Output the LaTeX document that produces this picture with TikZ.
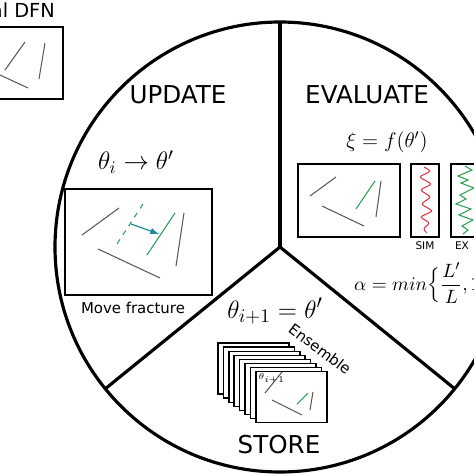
\documentclass[tikz,border=0pt]{standalone}
\usepackage{fontspec}
\setsansfont{DejaVu Sans}
\usepackage{amsmath}
\usepackage{amssymb}
\definecolor{fracgreen}{RGB}{40,160,80}
\definecolor{simred}{RGB}{220,50,70}
\definecolor{moveteal}{RGB}{30,140,150}
\tikzset{
  wheel/.style={line width=1.8pt},
  frame/.style={line width=1.1pt},
  frac/.style={line width=0.6pt, color=black!65},
  heading/.style={font=\sffamily\fontsize{14}{16}\selectfont},
  smalltxt/.style={font=\sffamily\fontsize{8.5}{10}\selectfont},
  mathtxt/.style={font=\fontsize{12}{14}\selectfont}
}

\begin{document}
\begin{tikzpicture}[x=0.02cm, y=-0.02cm]
  \useasboundingbox (0,0) rectangle (474,474);

  % the wheel
  \coordinate (hub) at (280,247);
  \draw[wheel] (hub) circle (225);
  \draw[wheel] (hub) -- (280,22);
  \draw[wheel] (hub) -- (105,389);
  \draw[wheel] (hub) -- (455,389);

  % initial DFN
  \node[anchor=base east, font=\sffamily\fontsize{11}{13}\selectfont] (initlabel) at (61,17) {Initial DFN};
  \draw[frame] (-10,27) rectangle (63,99);
  \draw[frac] (25,42) -- (5,70);
  \draw[frac] (45,43) -- (39,79);
  \draw[frac] (0,75) -- (28,88);

  % headings
  \node[heading] (update) at (178,95) {UPDATE};
  \node[heading] (evaluate) at (367,95) {EVALUATE};
  \node[heading] (store) at (279,445) {STORE};

  % update
  \node[mathtxt, font=\fontsize{14}{16}\selectfont] (updmath) at (136,162) {$\theta_i \rightarrow \theta'$};
  \draw[frame] (65,189) rectangle (212,295);
  \draw[frac] (119,208) -- (82,235);
  \draw[frac] (98,249) -- (160,278);
  \draw[frac] (184,213) -- (176,266);
  \draw[fracgreen, line width=0.6pt, dashed] (143,204) -- (115,247);
  \draw[fracgreen, line width=0.6pt] (175,213) -- (147,255);
  \coordinate (oldpos) at (131,224);
  \coordinate (newpos) at (159,234);
  \draw[moveteal, line width=0.7pt, -latex] (oldpos) -- (newpos);
  \node[smalltxt] (movelabel) at (133,308) {Move fracture};

  % evaluate
  \node[mathtxt] (evalmath) at (387,142) {$\xi = f(\theta')$};
  \draw[frame] (298,164) rectangle (400,237);
  \draw[frac] (336,177) -- (310,196);
  \draw[frac] (322,206) -- (364,226);
  \draw[fracgreen, line width=0.6pt] (375,181) -- (356,209);
  \draw[frac] (381,181) -- (376,217);
  \draw[frame] (411,164) rectangle (439,237);
  \draw[frame] (451,164) rectangle (481,237);
  \draw[simred, line width=0.6pt, rounded corners=1.5pt] (424,167) -- (431,171) -- (419,177) -- (432,184) -- (420,190)
    -- (431,197) -- (421,204) -- (433,211) -- (420,217) -- (430,223) -- (423,229) -- (427,233);
  \draw[fracgreen, line width=0.6pt] (465,166) -- (472,170) -- (458,176) -- (468,180) -- (461,183)
    -- (474,188) -- (460,195) -- (466,199) -- (456,204) -- (471,209) -- (459,215) -- (473,220)
    -- (462,226) -- (468,230) -- (463,234);
  \node[font=\sffamily\fontsize{6}{7}\selectfont] (simlabel) at (425,246) {SIM};
  \node[font=\sffamily\fontsize{6}{7}\selectfont] (exlabel) at (462,246) {EX};
  \node[mathtxt, font=\fontsize{11}{13}\selectfont, anchor=west] (alphamath) at (348,283) {$\alpha = min\Big\{\dfrac{L'}{L},\mathbf{1}\Big\}$};

  % store
  \node[mathtxt, font=\fontsize{15}{17}\selectfont] (storemath) at (275,311) {$\theta_{i+1} = \theta'$};
  \foreach \k in {0,...,7}
  {
  \draw[line width=0.8pt, fill=white] ({218+5.4*\k},{343+4.1*\k}) rectangle ++(71,51);
  }
  \node[anchor=west, inner sep=0pt, font=\fontsize{5}{6}\selectfont] (stacklabel) at (258,379) {$\theta_{i+1}$};
  \draw[frac] (282,372) -- (265,393);
  \draw[frac] (272,400) -- (302,415);
  \draw[fracgreen, line width=0.6pt] (308,393) -- (297,404);
  \draw[frac] (313,392) -- (310,410);
  \node[smalltxt, rotate=-37] (ensemble) at (320,349) {Ensemble};
\end{tikzpicture}
\end{document}
